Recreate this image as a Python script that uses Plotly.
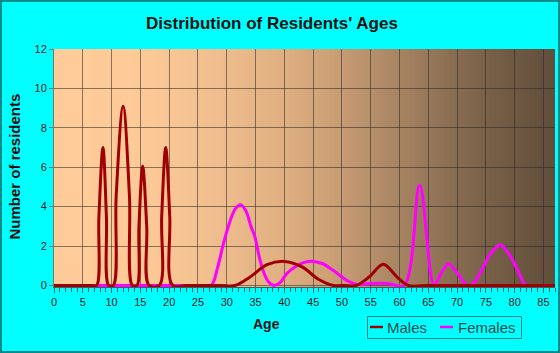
import plotly.graph_objects as go

# ---- data ----
male_age = [0, 2.5, 5, 6.6, 7.4, 7.8, 8.5, 9.1, 9.5, 10.3, 10.8, 12.0, 13.1, 13.6,
            14.4, 14.75, 15.4, 16.1, 16.5, 18.3, 18.7, 19.4, 20.1, 20.6,
            23, 26, 29, 31.5, 34, 37, 40, 43, 46, 48.5, 50.5, 52.5, 54.8, 57.2, 59.5, 61.5,
            65, 70, 75, 80, 87]
male_val = [0, 0, 0, 0, 0, 3.5, 7.0, 3.5, 0, 0, 4.55, 9.1, 4.55, 0,
            0, 3.0, 6.05, 3.0, 0, 0, 3.5, 7.0, 3.5, 0,
            0, 0, 0, 0, 0.42, 1.05, 1.22, 0.95, 0.3, 0, 0, 0, 0.45, 1.08, 0.45, 0,
            0, 0, 0, 0, 0]

female_age = [0, 5, 10, 15, 20, 23, 25.5, 27.3, 28.4, 29.4, 30.5, 31.5, 32.4, 33.3, 34.2,
              34.9, 35.6, 36.3, 37.2, 38.2, 39.3, 40.4, 42.2, 43.5, 45, 46.7, 48.5, 50.9,
              52.6, 55, 58, 60.8, 63.5, 66.0, 67.2, 68.5, 70.1, 71.8, 73.0,
              74.3, 75.8, 77.5, 79.0, 80.5, 82.0, 84.5, 87]
female_val = [0, 0, 0, 0, 0, 0, 0, 0, 0.9, 2.1, 3.2, 3.9, 4.1, 3.8, 3.0,
              2.45, 1.5, 0.76, 0.2, 0, 0.15, 0.6, 1.0, 1.17, 1.22, 1.1, 0.76, 0.25,
              0.05, 0.1, 0.1, 0, 5.08, 0, 0.6, 1.1, 0.6, 0, 0.15,
              0.8, 1.6, 2.07, 1.6, 0.8, 0, 0, 0]

x_ticks = list(range(0, 90, 5))
y_ticks = list(range(0, 14, 2))

W, H = 560, 353
ML, MR, MT, MB = 54, 5, 49, 66
PW, PH = W - ML - MR, H - MT - MB
FONT = "Arial, Liberation Sans, sans-serif"
MALE_C, FEMALE_C = "#A00000", "#FF00FF"


def px(X):
    return (X - ML) / PW


def py(Y):
    return (MT + PH - Y) / PH


fig = go.Figure()
fig.add_trace(go.Scatter(x=female_age, y=female_val, name="Females", mode="lines",
                         line=dict(color=FEMALE_C, width=3, shape="spline"),
                         showlegend=False))
fig.add_trace(go.Scatter(x=male_age, y=male_val, name="Males", mode="lines",
                         line=dict(color=MALE_C, width=3, shape="spline"),
                         showlegend=False))

# gradient background of the plot area
stops = [(0.0, (255, 204, 153)), (0.15, (254, 203, 152)), (0.3, (243, 192, 144)),
         (0.45, (224, 176, 130)), (0.55, (205, 160, 118)), (0.65, (178, 140, 104)),
         (0.75, (150, 119, 89)), (0.85, (124, 99, 74)), (1.0, (96, 77, 58))]


def col(f):
    for (a, ca), (b, cb) in zip(stops[:-1], stops[1:]):
        if a <= f <= b:
            t = (f - a) / (b - a)
            return "rgb(%d,%d,%d)" % tuple(round(ca[i] + (cb[i] - ca[i]) * t) for i in range(3))
    return "rgb(%d,%d,%d)" % stops[-1][1]


shapes = []
N = 100
for i in range(N):
    shapes.append(dict(type="rect", xref="paper", yref="paper", layer="below",
                       x0=i / N, x1=min(1, (i + 1.6) / N), y0=0, y1=1,
                       fillcolor=col((i + 0.5) / N), line=dict(width=0)))
# outer border of the image
shapes.append(dict(type="rect", xref="paper", yref="paper", layer="above",
                   x0=px(1), x1=px(W - 1), y0=py(H - 1), y1=py(1),
                   line=dict(color="#008B8B", width=2), fillcolor="rgba(0,0,0,0)"))
# legend box and keys
shapes.append(dict(type="rect", xref="paper", yref="paper", layer="above",
                   x0=px(367.5), x1=px(521.5), y0=py(338.5), y1=py(316.5),
                   line=dict(color="#1A8080", width=1), fillcolor="rgba(0,0,0,0)"))
shapes.append(dict(type="line", xref="paper", yref="paper", layer="above",
                   x0=px(370), x1=px(383), y0=py(327), y1=py(327),
                   line=dict(color=MALE_C, width=2.5)))
shapes.append(dict(type="line", xref="paper", yref="paper", layer="above",
                   x0=px(440), x1=px(453), y0=py(327), y1=py(327),
                   line=dict(color=FEMALE_C, width=2.5)))

LEG_FONT = dict(size=15, color="#1A4A4A", family=FONT)

fig.update_layout(
    width=W, height=H,
    margin=dict(l=ML, r=MR, t=MT, b=MB),
    paper_bgcolor="#00FFFF",
    plot_bgcolor="rgba(0,0,0,0)",
    font=dict(family=FONT, color="#111111"),
    title=dict(text="<b>Distribution of Residents' Ages</b>", x=272 / W, xanchor="center",
               y=1 - 23 / H, yanchor="middle", font=dict(size=17, color="#111111")),
    shapes=shapes,
    showlegend=False,
    annotations=[
        dict(text="<b>Age</b>", xref="paper", yref="paper", x=px(266.5),
             y=py(324), showarrow=False, xanchor="center", yanchor="middle",
             font=dict(size=14, color="#111111")),
        dict(text="<b>Number of residents</b>", xref="paper", yref="paper",
             x=px(14), y=py(166.5), textangle=-90, showarrow=False,
             xanchor="center", yanchor="middle", font=dict(size=15, color="#111111")),
        dict(text="Males", xref="paper", yref="paper", x=px(386), y=py(327.5),
             showarrow=False, xanchor="left", yanchor="middle", font=LEG_FONT,
             borderpad=0),
        dict(text="Females", xref="paper", yref="paper", x=px(457), y=py(327.5),
             showarrow=False, xanchor="left", yanchor="middle", font=LEG_FONT,
             borderpad=0),
    ],
)

fig.update_xaxes(range=[0, 87], tickvals=x_ticks, ticktext=[str(v) for v in x_ticks],
                 showgrid=True, gridcolor="rgba(40,40,40,0.55)", gridwidth=1,
                 zeroline=False, showline=True, linecolor="#336666", linewidth=1,
                 ticks="outside", ticklen=5, tickcolor="#336666",
                 minor=dict(dtick=1, ticks="outside", ticklen=4, tickcolor="#336666", showgrid=False),
                 tickfont=dict(size=11, color="#1a1a1a"), fixedrange=True)
fig.update_yaxes(range=[-0.08, 12], tickvals=y_ticks, ticktext=[str(v) for v in y_ticks],
                 showgrid=True, gridcolor="rgba(40,40,40,0.55)", gridwidth=1,
                 zeroline=False, showline=True, linecolor="#777777", linewidth=1,
                 ticks="outside", ticklen=4, tickcolor="#777777",
                 tickfont=dict(size=11, color="#1a1a1a"), fixedrange=True)

fig.write_html("out.html")
